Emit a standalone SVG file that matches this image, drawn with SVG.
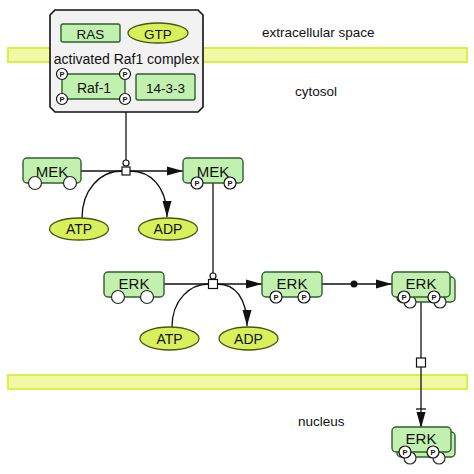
<svg xmlns="http://www.w3.org/2000/svg" width="474" height="474" viewBox="0 0 474 474">
<defs>
<style>
text{font-family:"Liberation Sans",Arial,sans-serif;fill:#111;text-anchor:middle}
.lbl{font-size:14px}
.cmp{font-size:13.5px;text-anchor:start}
.nl{font-size:15px}
.sm{font-size:13.5px}
.box{fill:#c2f0ae;stroke:#2f5f2f;stroke-width:1.4}
.ell{fill:#d8f05a;stroke:#4a5414;stroke-width:1.3}
.emp{fill:#fff;stroke:#2a2a2a;stroke-width:1.2}
.pc{fill:#fff;stroke:#111;stroke-width:1.2}
.pt{font-size:7.5px;font-weight:bold}
.ln{fill:none;stroke:#111;stroke-width:1.3}
.mem{fill:#f1f9a6;stroke:#d9f046;stroke-width:2}
</style>
<marker id="arr" viewBox="0 0 16 10" refX="16" refY="5" markerWidth="16" markerHeight="10" markerUnits="userSpaceOnUse" orient="auto">
<path d="M0,0.5 L16,5 L0,9.5 Z" fill="#111"/>
</marker>
</defs>
<rect width="474" height="474" fill="#fff"/>
<g id="membranes">
<rect class="mem" x="8" y="48" width="459" height="14"/>
<rect class="mem" x="8" y="375" width="459" height="14"/>
</g>
<g id="compartment-labels">
<text class="cmp" x="262" y="37">extracellular space</text>
<text class="cmp" x="295" y="96">cytosol</text>
<text class="cmp" x="298" y="426">nucleus</text>
</g>
<g id="connectors">
<line class="ln" x1="126" y1="112" x2="126" y2="160"/>
<circle cx="126" cy="163" r="3" fill="#fff" stroke="#111" stroke-width="1.2"/>
<line class="ln" x1="81" y1="171" x2="122" y2="171"/>
<line class="ln" x1="130" y1="171" x2="183" y2="171" marker-end="url(#arr)"/>
<path class="ln" d="M82,218 C82,190 100,171 122,171"/>
<path class="ln" d="M130,171 C150,171 167,186 167,217" marker-end="url(#arr)"/>
<rect x="122" y="167" width="8" height="8" fill="#fff" stroke="#111" stroke-width="1.2"/>

<line class="ln" x1="213" y1="183" x2="213" y2="273"/>
<circle cx="213" cy="276" r="3" fill="#fff" stroke="#111" stroke-width="1.2"/>
<line class="ln" x1="164" y1="284" x2="208.5" y2="284"/>
<line class="ln" x1="217.5" y1="284" x2="262" y2="284" marker-end="url(#arr)"/>
<path class="ln" d="M172,327 C172,300 190,284 208.5,284"/>
<path class="ln" d="M217.5,284 C235,284 247,298 247,326" marker-end="url(#arr)"/>
<rect x="208.5" y="279.5" width="9" height="9" fill="#fff" stroke="#111" stroke-width="1.2"/>

<line class="ln" x1="322" y1="284" x2="392" y2="284" marker-end="url(#arr)"/>
<circle cx="354" cy="284" r="3.5" fill="#111"/>

<line class="ln" x1="421" y1="297" x2="421" y2="358"/>
<rect x="416.5" y="358" width="9" height="9" fill="#fff" stroke="#111" stroke-width="1.2"/>
<line class="ln" x1="421" y1="367" x2="421" y2="428" marker-end="url(#arr)"/>
<line class="ln" x1="416" y1="409" x2="426" y2="409"/>
</g>
<g id="activated-raf1-complex">
<polygon points="55,10 198,10 203,15 203,107 198,112 55,112 50,107 50,15" fill="#f2f2f2" stroke="#111" stroke-width="1.6"/>
<rect class="box" x="61" y="24" width="59" height="18" rx="2"/>
<text class="sm" x="90.5" y="38.5">RAS</text>
<ellipse class="ell" cx="158" cy="33" rx="30" ry="10"/>
<text class="sm" x="158" y="38.5">GTP</text>
<text class="lbl" x="126.5" y="64">activated Raf1 complex</text>
<rect class="box" x="62" y="74" width="63" height="25" rx="2"/>
<text class="lbl" x="94" y="93">Raf-1</text>
<circle class="pc" cx="62" cy="74" r="5.5"/><text class="pt" x="62" y="76.7">P</text>
<circle class="pc" cx="125" cy="74" r="5.5"/><text class="pt" x="125" y="76.7">P</text>
<circle class="pc" cx="62" cy="99" r="5.5"/><text class="pt" x="62" y="101.7">P</text>
<circle class="pc" cx="125" cy="99" r="5.5"/><text class="pt" x="125" y="101.7">P</text>
<rect class="box" x="136" y="74" width="59" height="26" rx="2"/>
<text class="sm" x="165.5" y="93">14-3-3</text>
</g>
<g id="mek-inactive">
<rect class="box" x="23" y="158" width="58" height="25" rx="4"/>
<text class="nl" x="52" y="177">MEK</text>
<circle class="emp" cx="35" cy="183" r="6.5"/>
<circle class="emp" cx="70" cy="183" r="6.5"/>
</g>
<g id="mek-active">
<rect class="box" x="183" y="158" width="60" height="25" rx="4"/>
<text class="nl" x="213" y="177">MEK</text>
<circle class="pc" cx="197" cy="183" r="6"/><text class="pt" x="197" y="185.7">P</text>
<circle class="pc" cx="230" cy="183" r="6"/><text class="pt" x="230" y="185.7">P</text>
</g>
<g id="atp-1">
<ellipse class="ell" cx="79" cy="229" rx="29.5" ry="11"/>
<text class="lbl" x="79" y="234">ATP</text>
</g>
<g id="adp-1">
<ellipse class="ell" cx="168" cy="229" rx="29.5" ry="11"/>
<text class="lbl" x="168" y="234">ADP</text>
</g>
<g id="erk-inactive">
<rect class="box" x="104" y="272" width="60" height="25" rx="4"/>
<text class="nl" x="134" y="289">ERK</text>
<circle class="emp" cx="118" cy="297" r="6.5"/>
<circle class="emp" cx="147" cy="297" r="6.5"/>
</g>
<g id="atp-2">
<ellipse class="ell" cx="169.5" cy="338.5" rx="29.5" ry="11.5"/>
<text class="lbl" x="169.5" y="343.5">ATP</text>
</g>
<g id="adp-2">
<ellipse class="ell" cx="248.5" cy="338.5" rx="29.5" ry="11.5"/>
<text class="lbl" x="248.5" y="343.5">ADP</text>
</g>
<g id="erk-active">
<rect class="box" x="262" y="272" width="60" height="25" rx="4"/>
<text class="nl" x="292" y="289">ERK</text>
<circle class="pc" cx="276" cy="297" r="6"/><text class="pt" x="276" y="299.7">P</text>
<circle class="pc" cx="304" cy="297" r="6"/><text class="pt" x="304" y="299.7">P</text>
</g>
<g id="erk-dimer-cytosol">
<rect class="box" x="397" y="277" width="58" height="25" rx="4"/>
<circle class="emp" cx="410" cy="302" r="6"/>
<circle class="emp" cx="440" cy="302" r="6"/>
<rect class="box" x="392" y="272" width="58" height="25" rx="4"/>
<text class="nl" x="421" y="289">ERK</text>
<circle class="pc" cx="404" cy="297" r="6"/><text class="pt" x="404" y="299.7">P</text>
<circle class="pc" cx="434" cy="297" r="6"/><text class="pt" x="434" y="299.7">P</text>
</g>
<g id="erk-dimer-nucleus">
<rect class="box" x="397" y="432" width="58" height="25" rx="4"/>
<circle class="emp" cx="410" cy="458" r="6"/>
<circle class="emp" cx="439" cy="458" r="6"/>
<rect class="box" x="392" y="427" width="59" height="25" rx="4"/>
<text class="nl" x="421" y="444">ERK</text>
<circle class="pc" cx="405" cy="452" r="6"/><text class="pt" x="405" y="454.7">P</text>
<circle class="pc" cx="433" cy="452" r="6"/><text class="pt" x="433" y="454.7">P</text>
</g>
</svg>
